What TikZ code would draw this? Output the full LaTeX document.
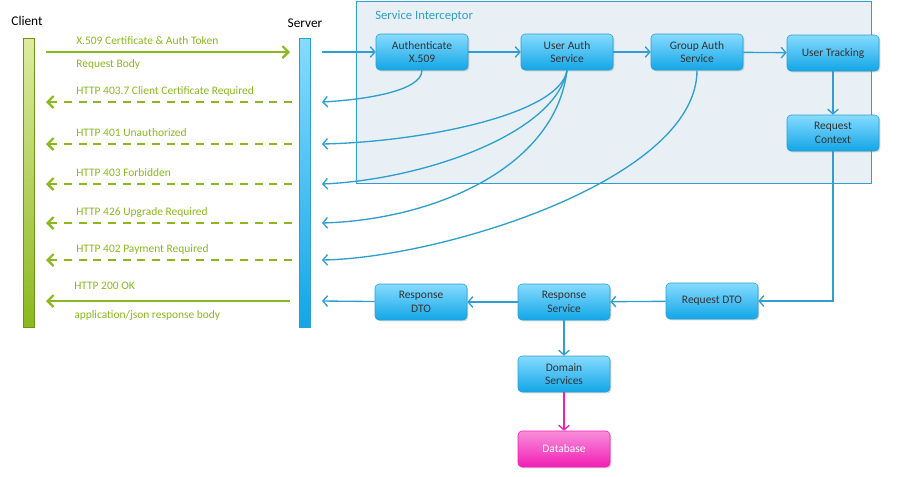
\documentclass[tikz,border=0pt]{standalone}
\usepackage{fontspec}
\setmainfont{Carlito}
\usetikzlibrary{arrows.meta,shadows}
\definecolor{gtxt}{HTML}{8AB81E}
\definecolor{bline}{HTML}{2E9FD0}
\definecolor{btop}{HTML}{86DBFF}
\definecolor{bbot}{HTML}{12A6E6}
\definecolor{boxbg}{HTML}{E8F0F5}
\definecolor{pink}{HTML}{F21FB5}
\begin{document}
\begin{tikzpicture}
	[x=0.75pt, y=-0.75pt, font=\fontsize{8.6}{10}\selectfont,
	every node/.style={inner sep=0pt},
	stage/.style={rectangle,rounded corners=3pt,draw=bline,top color=btop,bottom color=bbot,
		minimum width=69pt,minimum height=27pt,align=center,text=black!80,
		drop shadow={shadow xshift=1pt,shadow yshift=-1pt,opacity=.3}},
	glab/.style={text=gtxt,anchor=west},
	req/.style={draw=gtxt,line width=1.6pt,-{Straight Barb[length=4.5pt,width=9pt]}},
	rsp/.style={req,dash pattern=on 6pt off 5pt},
	flow/.style={draw=bline,line width=1pt,-{Straight Barb[length=3.5pt,width=8pt]}}]
	\useasboundingbox (0,0) rectangle (900,476);
	% service interceptor
	\node (box) [draw=bline,fill=boxbg,line width=0.8pt,minimum width=386pt,minimum height=136.5pt,anchor=north west] at (356,1) {};
	\node [text=bline,anchor=west,font=\fontsize{9.5}{11}\selectfont] at (375,16) {Service Interceptor};
	% client and server
	\node at (27,21) {\fontsize{10}{12}\selectfont Client};
	\node at (305,23) {\fontsize{10}{12}\selectfont Server};
	\node (client) [draw=gtxt!80!black,top color=yellow!30!gtxt!40!white,bottom color=gtxt,minimum width=8pt,minimum height=217pt,anchor=north] at (29,38) {};
	\node (server) [draw=bline,top color=btop,bottom color=bbot,minimum width=8pt,minimum height=217pt,anchor=north] at (305,38) {};
	% stages
	\node (auth) [stage] at (422,52) {Authenticate\\X.509};
	\node (user) [stage] at (567,52) {User Auth\\Service};
	\node (group) [stage] at (697,52) {Group Auth\\Service};
	\node (track) [stage] at (833,53) {User Tracking};
	\node (ctx) [stage] at (833,133) {Request\\Context};
	\node (reqdto) [stage] at (712,301) {Request DTO};
	\node (ressvc) [stage] at (564,302) {Response\\Service};
	\node (resdto) [stage] at (421,302) {Response\\DTO};
	\node (domain) [stage] at (564,374) {Domain\\Services};
	\node (db) [stage,draw=pink,top color=pink!50,bottom color=pink,text=white] at (564,449) {Database};
	% client / server messages
	\coordinate (c1) at (46,52); \coordinate (s1) at (290,52);
	\draw [req] (c1) -- (s1);
	\node [glab] at (76,41) {X.509 Certificate \& Auth Token};
	\node [glab] at (76,64) {Request Body};
	\foreach \y/\t in {102/HTTP 403.7 Client Certificate Required,144/HTTP 401 Unauthorized,184/HTTP 403 Forbidden,223/HTTP 426 Upgrade Required,260/HTTP 402 Payment Required}{
		\coordinate (sr\y) at (292,\y); \coordinate (cr\y) at (46,\y);
		\draw [rsp] (sr\y) -- (cr\y);
		\node [glab] at (76,\y-11) {\t};
	}
	\foreach \y in {102,144,184,223,260}
		\coordinate (in\y) at (322,\y);
	\coordinate (s200) at (290,301); \coordinate (c200) at (46,301);
	\draw [req] (s200) -- (c200);
	\node [glab] at (74,286) {HTTP 200 OK};
	\node [glab] at (74,315) {application/json response body};
	% pipeline
	\coordinate (s0) at (322,52);
	\draw [flow] (s0) -- (auth);
	\draw [flow] (auth) -- (user);
	\draw [flow] (user) -- (group);
	\draw [flow] (group) -- (track);
	\draw [flow] (track) -- (ctx);
	\draw [flow] (ctx.south) |- (reqdto.east);
	\draw [flow] (reqdto) -- (ressvc);
	\draw [flow] (ressvc) -- (resdto);
	\coordinate (s2) at (322,301);
	\draw [flow] (resdto) -- (s2);
	\draw [flow] (ressvc) -- (domain);
	\draw [flow,draw=pink] (domain) -- (db);
	% failures back to the server
	\draw [flow] (auth.south) .. controls (422,92) and (360,100) .. (in102);
	\draw [flow] (user.south) .. controls (560,115) and (420,142) .. (in144);
	\draw [flow] (user.south) .. controls (555,135) and (420,180) .. (in184);
	\draw [flow] (user.south) .. controls (555,170) and (430,220) .. (in223);
	\draw [flow] (group.south) .. controls (697,180) and (440,258) .. (in260);
\end{tikzpicture}
\end{document}
